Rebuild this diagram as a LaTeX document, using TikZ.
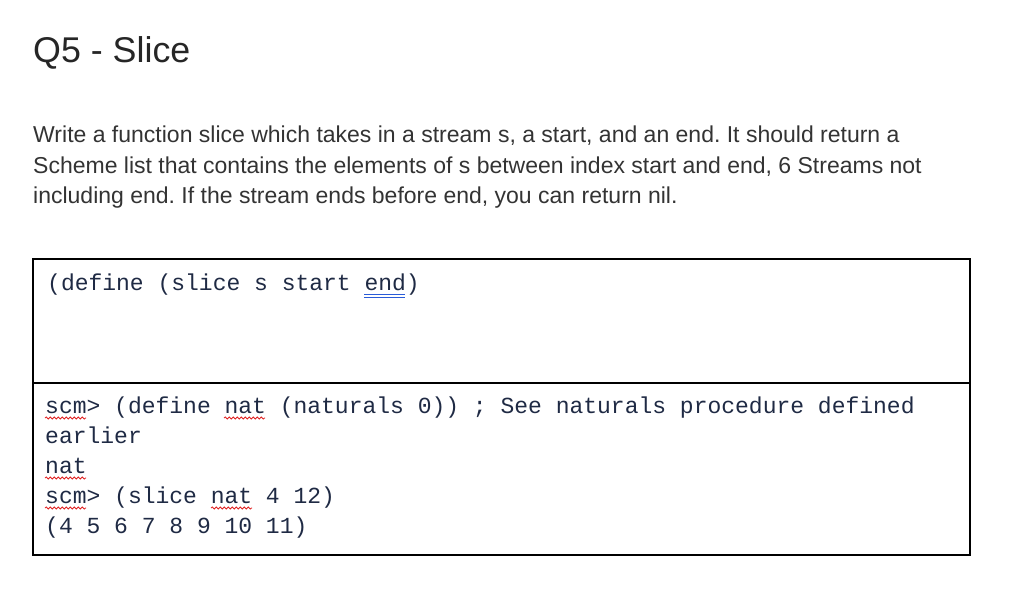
\documentclass[tikz,border=0pt]{standalone}
\usepackage{fontspec}
\setmainfont{Liberation Sans}
\newfontfamily\codefont{Liberation Mono}
\usetikzlibrary{decorations.pathmorphing}
\definecolor{bodytxt}{HTML}{333333}
\definecolor{codetxt}{HTML}{1F2A44}
\definecolor{squig}{HTML}{E02020}
\definecolor{dbl}{HTML}{2A5BD7}
\frenchspacing
\begin{document}
\begin{tikzpicture}[x=1pt,y=-1pt,
  body/.style={anchor=base west,inner sep=0,font=\fontsize{23}{25}\selectfont,text=bodytxt},
  code/.style={anchor=base west,inner sep=0,font=\codefont\fontsize{23}{25}\selectfont,text=codetxt},
  wavy/.style={squig,line width=0.8pt,decorate,decoration={snake,amplitude=1pt,segment length=4pt}}]
\useasboundingbox (0,0) rectangle (1013,600);
\node[anchor=base west,inner sep=0,font=\fontsize{35.8}{40}\selectfont,text=black!85] (title) at (33,62) {Q5 - Slice};
\node[body] (b1) at (33,142) {Write a function slice which takes in a stream s, a start, and an end. It should return a};
\node[body] (b2) at (33,173) {Scheme list that contains the elements of s between index start and end, 6 Streams not};
\node[body] (b3) at (33,203) {including end. If the stream ends before end, you can return nil.};
\draw[line width=1.6pt] (33,259) rectangle (970,555);
\draw[line width=1.6pt] (33,383) -- (970,383);
\node[code] (c0) at (47,290) {(define (slice s start end)};
\draw[dbl,line width=0.8pt] (364,294.5) -- (405,294.5) (364,297.5) -- (405,297.5);
\node[code] (c1) at (45,413) {scm> (define nat (naturals 0)) ; See naturals procedure defined};
\node[code] (c2) at (45,443) {earlier};
\node[code] (c3) at (45,473) {nat};
\node[code] (c4) at (45,503) {scm> (slice nat 4 12)};
\node[code] (c5) at (45,533) {(4 5 6 7 8 9 10 11)};
\draw[wavy] (45,418) -- (86,418);
\draw[wavy] (224,418) -- (265,418);
\draw[wavy] (45,478) -- (86,478);
\draw[wavy] (45,508) -- (86,508);
\draw[wavy] (211,508) -- (252,508);
\end{tikzpicture}
\end{document}
